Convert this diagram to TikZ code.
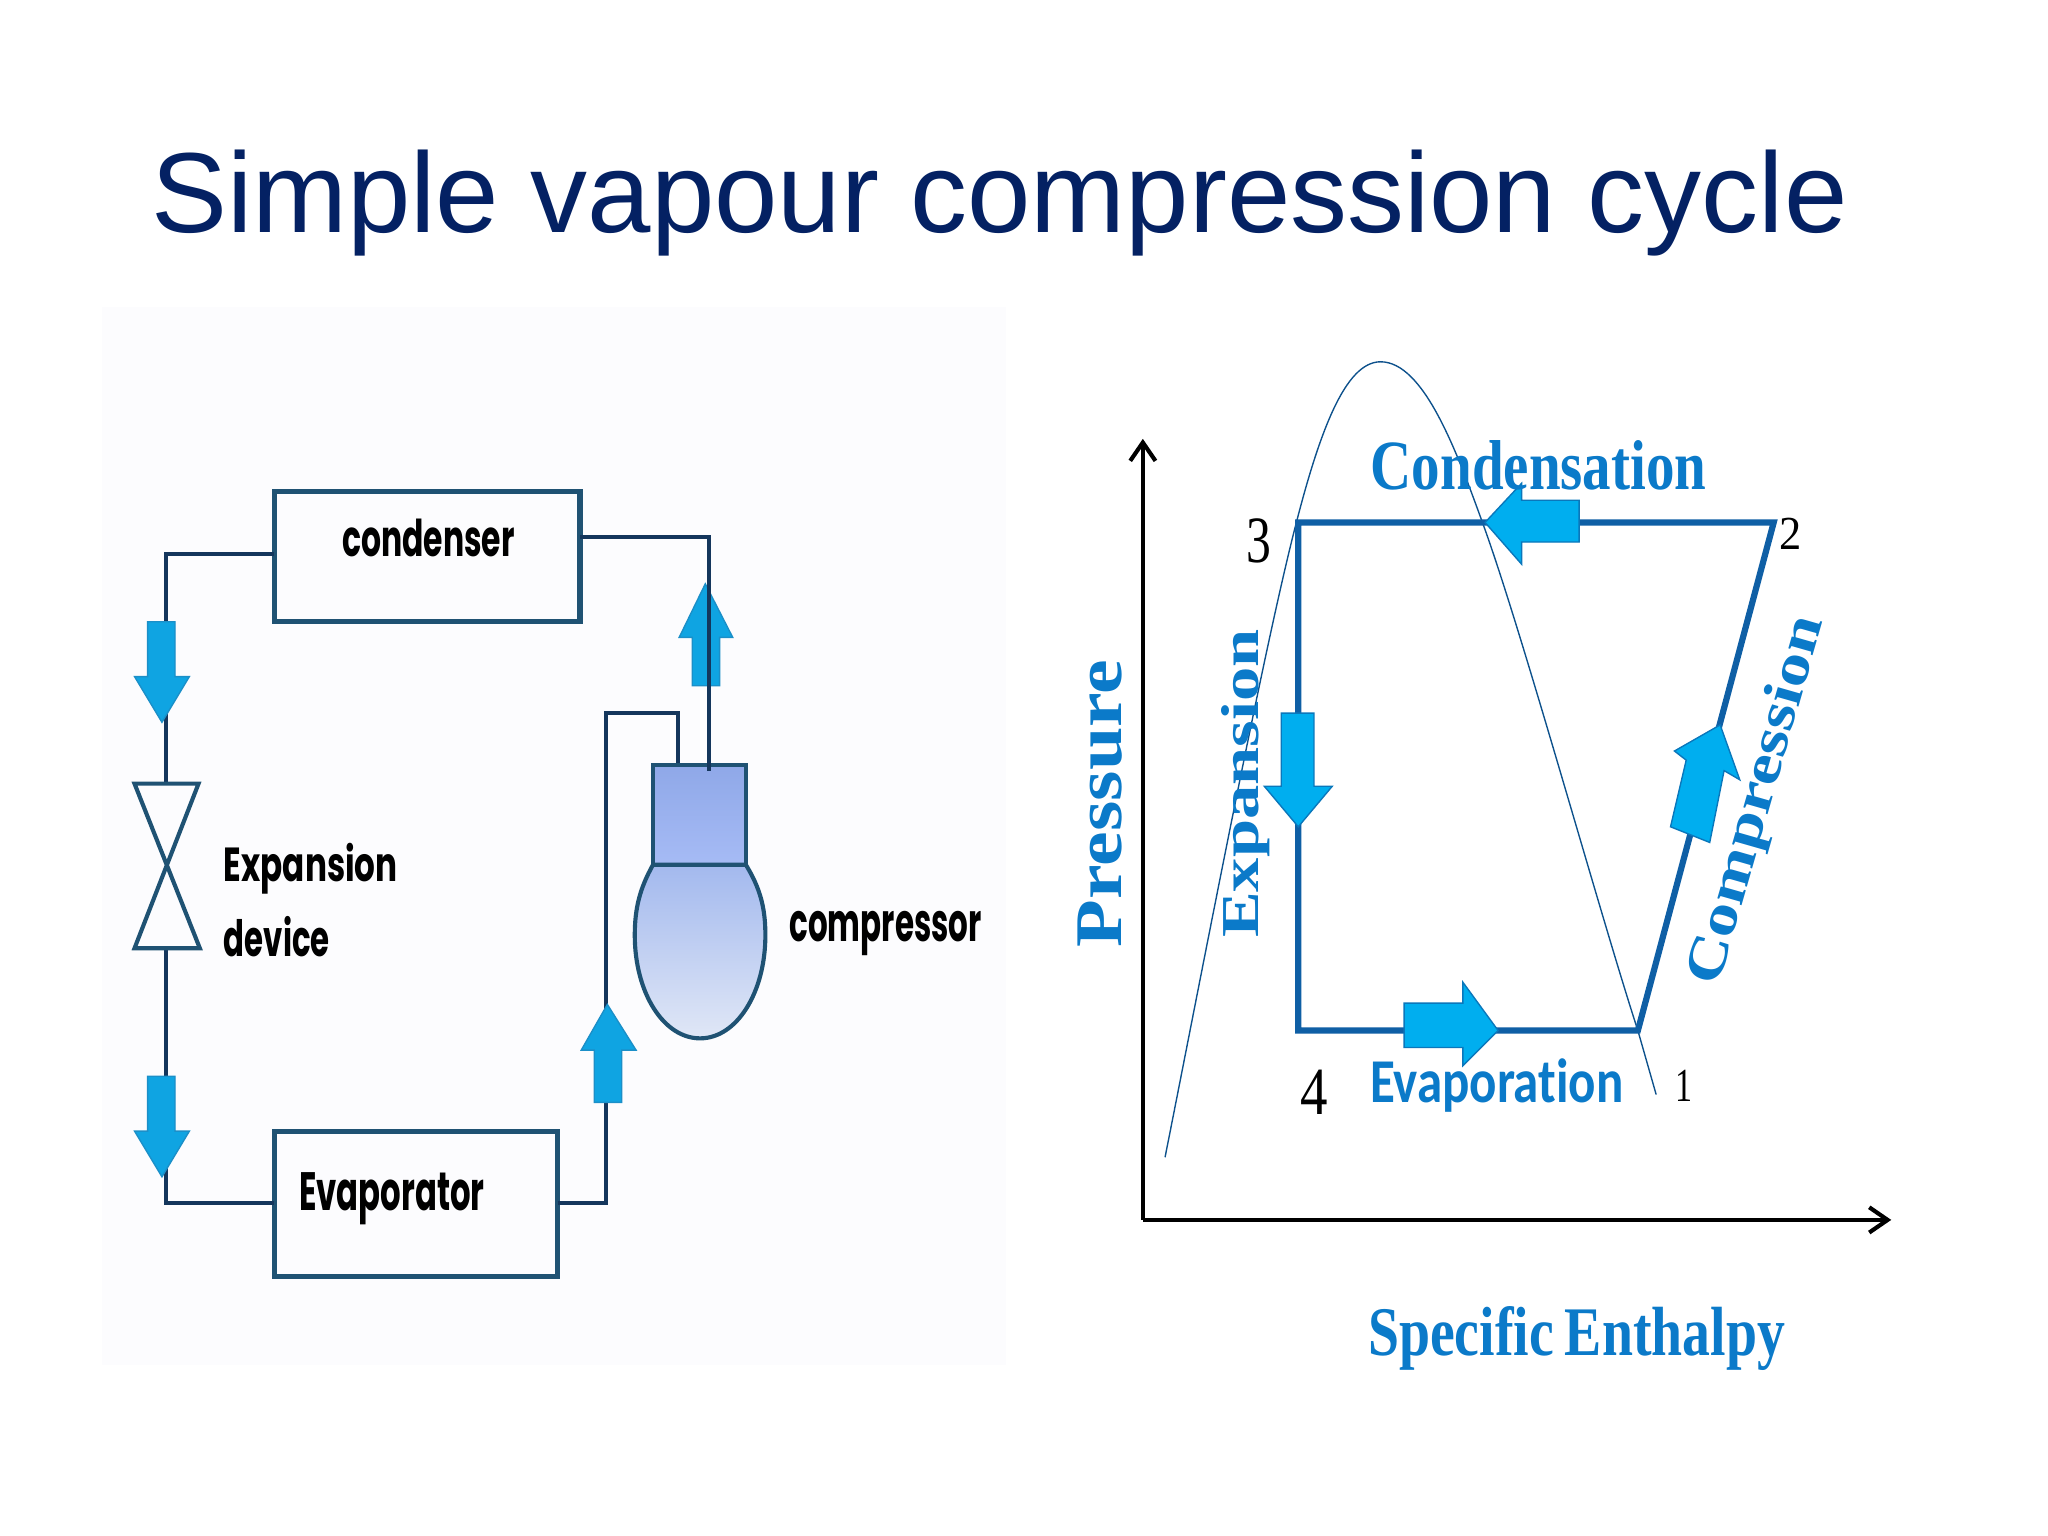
\documentclass[tikz,border=0pt]{standalone}
\usepackage{fontspec}
\usepackage{graphicx}
\setmainfont{Liberation Sans}
\newfontfamily\futfont{Poppins}
\newfontfamily\serfont{Liberation Serif}
\newfontfamily\calfont[Ligatures=NoCommon]{Carlito}
\definecolor{titleblue}{HTML}{042163}
\definecolor{pipe}{HTML}{14365C}
\definecolor{boxline}{HTML}{1F5273}
\definecolor{flow}{HTML}{0FA4E2}
\definecolor{flowedge}{HTML}{1B8FC8}
\definecolor{cyc}{HTML}{0F5FA5}
\definecolor{cycarrow}{HTML}{00AEEF}
\definecolor{labelblue}{HTML}{0B7AC9}
\definecolor{panel}{HTML}{FCFCFE}
\definecolor{cylA}{HTML}{8FA8E8}
\definecolor{cylB}{HTML}{A6BBF5}
\definecolor{bulbA}{HTML}{A3B9EE}
\definecolor{bulbB}{HTML}{E0E7F6}
\newcommand{\fitbox}[3]{\resizebox*{#1cm}{#2cm}{#3}}
\usetikzlibrary{arrows.meta}
\tikzset{
  unitbox/.style={draw=boxline,line width=1.1pt,fill=none,inner sep=0pt,outer sep=0pt},
  pipeline/.style={draw=pipe,line width=0.95pt,line join=miter},
  blockflow/.style={fill=flow,draw=flowedge,line width=0.3pt,line join=miter},
  cycline/.style={draw=cyc,line width=1.35pt,line join=miter},
  cycflow/.style={fill=cycarrow,draw=cyc!70!cycarrow,line width=0.3pt,line join=miter},
  axisline/.style={draw=black,line width=0.9pt,-{Straight Barb[length=4pt,width=5.5pt]}},
  lefttext/.style={inner sep=0pt,outer sep=0pt,text=black,font=\futfont\bfseries},
  righttext/.style={inner sep=0pt,outer sep=0pt,text=labelblue,font=\serfont\bfseries},
  numtext/.style={inner sep=0pt,outer sep=0pt,text=black,font=\serfont}
}
\begin{document}
\begin{tikzpicture}[x=0.01cm,y=-0.01cm]
\useasboundingbox (0,0) rectangle (1568,1176);
\fill[white] (0,0) rectangle (1568,1176);
\fill[panel] (78,235) rectangle (770,1045);

\node[anchor=base west,inner sep=0pt,text=titleblue,font=\fontsize{24.8}{30}\selectfont] (title) at (115,178) {Simple vapour compression cycle};

% ---- left schematic
\node[unitbox,minimum width=2.34cm,minimum height=1.00cm] (condenser) at (327,426) {};
\node[unitbox,minimum width=2.17cm,minimum height=1.11cm] (evaporator) at (318.5,921.5) {};
\coordinate (c1) at (210,424);
\coordinate (c2) at (127,424);
\coordinate (v1) at (127,600);
\coordinate (v2) at (127,726);
\coordinate (e1) at (127,921);
\coordinate (e2) at (210,921);
\coordinate (e3) at (427,921);
\coordinate (e4) at (464,921);
\coordinate (e5) at (464,546);
\coordinate (e6) at (519,546);
\coordinate (e7) at (519,586);
\coordinate (c3) at (444,411);
\coordinate (c4) at (543,411);
\coordinate (c5) at (543,590);
\draw[pipeline] (c1) -- (c2) -- (v1);
\draw[pipeline] (v2) -- (e1) -- (e2);
\draw[pipeline] (e3) -- (e4) -- (e5) -- (e6) -- (e7);
% compressor
\shade[top color=cylA,bottom color=cylB] (500,586) rectangle (571,662);
\shade[top color=bulbA,bottom color=bulbB] (500,662) .. controls (490,680) and (486,695) .. (486,716)
  .. controls (486,760) and (508,795) .. (536,795) .. controls (564,795) and (586,760) .. (586,716)
  .. controls (586,695) and (582,680) .. (571,662) -- cycle;
\draw[draw=boxline,line width=0.9pt] (500,662) .. controls (490,680) and (486,695) .. (486,716)
  .. controls (486,760) and (508,795) .. (536,795) .. controls (564,795) and (586,760) .. (586,716)
  .. controls (586,695) and (582,680) .. (571,662) -- cycle;
\draw[draw=boxline,line width=0.9pt] (500,586) rectangle (571,662);
\draw[pipeline] (c3) -- (c4) -- (c5);
% valve
\draw[draw=boxline,line width=0.9pt,line join=miter] (103,600) -- (152,600) -- (103,726) -- (153,726) -- cycle;
% flow arrows
\draw[blockflow] (113,476) -- (134,476) -- (134,518) -- (145,518) -- (124,553) -- (103,518) -- (113,518) -- cycle;
\draw[blockflow] (113,824) -- (134,824) -- (134,866) -- (145,866) -- (124,901) -- (103,866) -- (113,866) -- cycle;
\draw[blockflow] (530,525) -- (551,525) -- (551,488) -- (561,488) -- (540,447) -- (520,488) -- (530,488) -- cycle;
\draw[blockflow] (455,844) -- (476,844) -- (476,804) -- (487,804) -- (465,769) -- (445,804) -- (455,804) -- cycle;
\draw[pipe,line width=0.8pt] (c4) -- (c5);
% left labels
\node[lefttext] (tcond) at (328,412) {\fitbox{1.32}{0.29}{condenser}};
\node[lefttext] (texp) at (238,665) {\fitbox{1.33}{0.39}{Expansion}};
\node[lefttext] (tdev) at (212,717) {\fitbox{0.81}{0.31}{device}};
\node[lefttext] (tcomp) at (678,715) {\fitbox{1.47}{0.34}{compressor}};
\node[lefttext] (tevap) at (300,918) {\fitbox{1.42}{0.40}{Evaporator}};

% ---- right chart
\coordinate (O) at (875,934);
\coordinate (Ytip) at (875,336);
\coordinate (Xtip) at (1448,934);
\draw[axisline] (O) -- (Ytip);
\draw[axisline] (O) -- (Xtip);
\draw[draw=cyc!85!black,line width=0.3pt] (892,886) .. controls (920,745) and (965,510) .. (990,410)
  .. controls (1010,330) and (1030,277) .. (1057,277)
  .. controls (1090,277) and (1115,345) .. (1135,400)
  .. controls (1165,482) and (1225,700) .. (1254,789) -- (1268,838);
\coordinate (p1) at (1254,789);
\coordinate (p2) at (1358,400);
\coordinate (p3) at (994,400);
\coordinate (p4) at (994,789);
\draw[cycline] (p1) -- (p2) -- (p3) -- (p4) -- cycle;
\draw[cycflow] (1209,383) -- (1165,383) -- (1165,370) -- (1137,400) -- (1165,432) -- (1165,415) -- (1209,415) -- cycle;
\draw[cycflow] (981,546) -- (1006,546) -- (1006,602) -- (1020,602) -- (994,633) -- (968,602) -- (981,602) -- cycle;
\draw[cycflow] (1075,768) -- (1120,768) -- (1120,752) -- (1147,789) -- (1120,816) -- (1120,802) -- (1075,802) -- cycle;
\draw[cycflow] (1279,633) -- (1291,582) -- (1282,575) -- (1317,555) -- (1332,597) -- (1320,590) -- (1309,645) -- cycle;

\node[righttext] (tcondn) at (1178,356) {\fitbox{2.57}{0.38}{Condensation}};
\node[inner sep=0pt,text=labelblue,font=\calfont\bfseries] (tevapn) at (1146,831) {\fitbox{1.94}{0.41}{Evaporation}};
\node[righttext,rotate=90] (tpres) at (842,615) {\fitbox{2.20}{0.34}{Pressure}};
\node[righttext,rotate=90] (texpn) at (954,600) {\fitbox{2.36}{0.37}{Expansion}};
\node[righttext,rotate=74] (tcompn) at (1346,613) {\fitbox{2.92}{0.38}{Compression}};
\node[righttext] (tspec) at (1207,1025) {\fitbox{3.19}{0.49}{Specific\hspace{0.2em}Enthalpy}};
\node[numtext] (n3) at (964,414) {\fitbox{0.19}{0.34}{3}};
\node[numtext] (n2) at (1371,409) {\fitbox{0.17}{0.24}{2}};
\node[numtext] (n1) at (1289,831) {\fitbox{0.13}{0.24}{1}};
\node[numtext] (n4) at (1006,836) {\fitbox{0.21}{0.34}{4}};
\end{tikzpicture}
\end{document}
